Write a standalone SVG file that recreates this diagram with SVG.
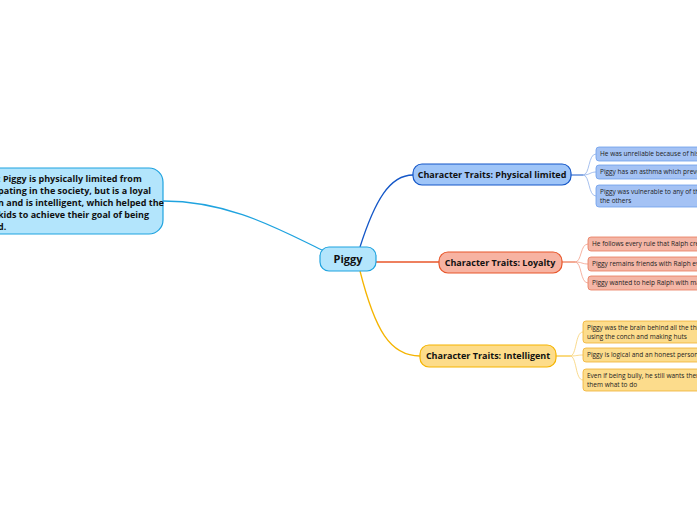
<svg xmlns="http://www.w3.org/2000/svg" width="697" height="520" viewBox="0 0 697 520">
<style>
text{font-family:"Open Sans","Noto Sans","Liberation Sans",sans-serif}
.m{font-size:9px;font-weight:bold;fill:#111}
.s{font-size:6.5px;fill:#222}
.c{fill:none;stroke-width:1.3}
.b{fill:#a4c2f4;stroke:#6d9eeb;stroke-width:0.8}
.r{fill:#f4b6a6;stroke:#e8785c;stroke-width:0.8}
.y{fill:#fcdc8c;stroke:#f0b030;stroke-width:0.8}
</style>
<rect width="697" height="520" fill="#fff"/>
<g id="connectors">
<path class="c" stroke="#1fa3df" d="M322 250 C280 230 230 201 163 201"/>
<path class="c" stroke="#1457c8" d="M360 247 C375 200 390 175 413 175"/>
<path class="c" stroke="#e8562a" d="M376 262 L439 262"/>
<path class="c" stroke="#f5b400" d="M360 271 C375 330 390 356 420 356"/>
<path fill="none" stroke="#1457c8" stroke-width="1" d="M571 175 L583 175"/>
<path fill="none" stroke="#8fb0ea" stroke-width="0.8" d="M583 175 C590 175 588 154 596 154 M583 175 C590 175 590 172 596 172 M583 175 C590 175 588 196 596 196"/>
<path fill="none" stroke="#e8562a" stroke-width="1" d="M562 262 L575 262"/>
<path fill="none" stroke="#f2a08a" stroke-width="0.8" d="M575 262 C582 262 580 244 588 244 M575 262 C582 262 582 264 588 264 M575 262 C582 262 580 283 588 283"/>
<path fill="none" stroke="#f5b400" stroke-width="1" d="M556 356 L570 356"/>
<path fill="none" stroke="#f8d070" stroke-width="0.8" d="M570 356 C577 356 575 332 583 332 M570 356 C577 356 577 355 583 355 M570 356 C577 356 575 380 583 380"/>
</g>
<g id="piggy"><rect x="320" y="247" width="56" height="24" rx="9" fill="#b3e5fc" stroke="#1fa3df" stroke-width="1.2"/><text x="348" y="263" text-anchor="middle" font-size="11" font-weight="bold" fill="#111">Piggy</text></g>
<g id="thesis"><rect x="-15" y="168" width="178" height="66" rx="14" fill="#b3e5fc" stroke="#1fa3df" stroke-width="1.2"/>
<text class="m"><tspan x="-2" y="182">: Piggy is physically limited from</tspan><tspan x="-2" y="194">pating in the society, but is a loyal</tspan><tspan x="-2" y="206">n and is intelligent, which helped the</tspan><tspan x="-2" y="218">kids to achieve their goal of being</tspan><tspan x="-2" y="230">d.</tspan></text></g>
<g id="physical"><rect x="413" y="164" width="158" height="21" rx="9" fill="#9fc5f8" stroke="#1457c8" stroke-width="1.2"/><text class="m" x="492" y="178" text-anchor="middle">Character Traits: Physical limited</text></g>
<g id="loyalty"><rect x="439" y="252" width="123" height="21" rx="9" fill="#f7b3a2" stroke="#e8562a" stroke-width="1.2"/><text class="m" x="500" y="266" text-anchor="middle">Character Traits: Loyalty</text></g>
<g id="intelligent"><rect x="420" y="345" width="136" height="22" rx="9" fill="#fddc8a" stroke="#f5b400" stroke-width="1.2"/><text class="m" x="488" y="359" text-anchor="middle">Character Traits: Intelligent</text></g>
<g id="p1"><rect class="b" x="596" y="147" width="120" height="14" rx="3"/><text class="s" x="600" y="156">He was unreliable because of his w</text></g>
<g id="p2"><rect class="b" x="596" y="165" width="120" height="14" rx="3"/><text class="s" x="600" y="174">Piggy has an asthma which preven</text></g>
<g id="p3"><rect class="b" x="596" y="185" width="120" height="22" rx="3"/><text class="s"><tspan x="600" y="194">Piggy was vulnerable to any of the</tspan><tspan x="600" y="203">the others</tspan></text></g>
<g id="l1"><rect class="r" x="588" y="237" width="120" height="14" rx="3"/><text class="s" x="592" y="246">He follows every rule that Ralph create</text></g>
<g id="l2"><rect class="r" x="588" y="257" width="120" height="14" rx="3"/><text class="s" x="592" y="266">Piggy remains friends with Ralph even</text></g>
<g id="l3"><rect class="r" x="588" y="276" width="120" height="14" rx="3"/><text class="s" x="592" y="285">Piggy wanted to help Ralph with makir</text></g>
<g id="i1"><rect class="y" x="583" y="321" width="130" height="22" rx="3"/><text class="s"><tspan x="587" y="330">Piggy was the brain behind all the things</tspan><tspan x="587" y="339">using the conch and making huts</tspan></text></g>
<g id="i2"><rect class="y" x="583" y="348" width="130" height="14" rx="3"/><text class="s" x="587" y="357">Piggy is logical and an honest person wh</text></g>
<g id="i3"><rect class="y" x="583" y="369" width="130" height="22" rx="3"/><text class="s"><tspan x="587" y="378">Even if being bully, he still wants them to</tspan><tspan x="587" y="387">them what to do</tspan></text></g>
</svg>
